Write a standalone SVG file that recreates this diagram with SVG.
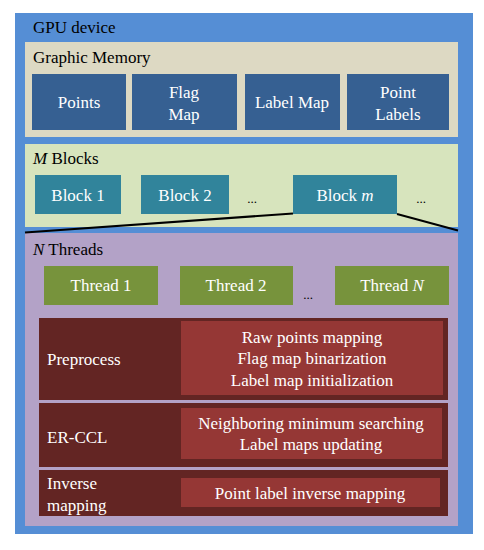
<svg xmlns="http://www.w3.org/2000/svg" width="484" height="550" viewBox="0 0 484 550" font-family="'Liberation Serif', 'DejaVu Serif', serif" font-size="17">
<style>
text{font-family:'Liberation Serif','DejaVu Serif',serif;font-size:17px}
.t{fill:#000}
.w{fill:#fff}
.c{text-anchor:middle}
.mem{fill:#366092}
.blk{fill:#31849B}
.thr{fill:#77933C}
.dk{fill:#632523}
.lt{fill:#953735}
</style>
<rect width="484" height="550" fill="#fff"/>
<g id="gpu">
<rect x="15" y="13" width="458" height="521" fill="#558ED5"/>
<text class="t" x="33" y="33">GPU device</text>
</g>
<g id="graphic-memory">
<rect x="25" y="42" width="433" height="95" fill="#DDD9C3"/>
<text class="t" x="33" y="63">Graphic Memory</text>
</g>
<g id="points"><rect class="mem" x="32" y="74" width="94" height="56"/><text class="w c" x="79" y="108">Points</text></g>
<g id="flag-map"><rect class="mem" x="132" y="74" width="105" height="56"/><text class="w c" x="184" y="98">Flag</text><text class="w c" x="184" y="120">Map</text></g>
<g id="label-map"><rect class="mem" x="245" y="74" width="95" height="56"/><text class="w c" x="292" y="108">Label Map</text></g>
<g id="point-labels"><rect class="mem" x="347" y="74" width="102" height="56"/><text class="w c" x="398" y="98">Point</text><text class="w c" x="398" y="120">Labels</text></g>
<g id="m-blocks">
<rect x="25" y="144" width="433" height="83" fill="#D7E4BD"/>
<text class="t" x="33" y="164"><tspan font-style="italic">M</tspan> Blocks</text>
</g>
<g id="block-1"><rect class="blk" x="35" y="175" width="86" height="39"/><text class="w c" x="78" y="201">Block 1</text></g>
<g id="block-2"><rect class="blk" x="141" y="175" width="88" height="39"/><text class="w c" x="185" y="201">Block 2</text></g>
<text class="t" x="252" y="203" text-anchor="middle" style="font-size:13px">...</text>
<g id="block-m"><rect class="blk" x="293" y="175" width="104" height="39"/><text class="w c" x="345" y="201">Block <tspan font-style="italic">m</tspan></text></g>
<text class="t" x="421" y="203" text-anchor="middle" style="font-size:13px">...</text>
<g id="n-threads">
<rect x="25" y="233" width="433" height="293" fill="#B3A2C7"/>
<text class="t" x="33" y="255"><tspan font-style="italic">N</tspan> Threads</text>
</g>
<g id="connectors" stroke="#000" stroke-width="2" fill="none">
<line x1="25" y1="232.5" x2="293" y2="213.5"/>
<line x1="397" y1="214" x2="458" y2="230.5"/>
</g>
<g id="thread-1"><rect class="thr" x="44" y="266" width="114" height="39"/><text class="w c" x="101" y="291">Thread 1</text></g>
<g id="thread-2"><rect class="thr" x="180" y="266" width="113" height="39"/><text class="w c" x="236" y="291">Thread 2</text></g>
<text class="t" x="308" y="299" text-anchor="middle" style="font-size:13px">...</text>
<g id="thread-n"><rect class="thr" x="335" y="266" width="114" height="39"/><text class="w c" x="392" y="291">Thread <tspan font-style="italic">N</tspan></text></g>
<g id="preprocess">
<rect class="dk" x="39" y="318" width="409" height="82"/>
<text class="w" x="47" y="365">Preprocess</text>
<rect class="lt" x="181" y="321" width="262" height="74"/>
<text class="w c" x="312" y="343">Raw points mapping</text>
<text class="w c" x="312" y="364">Flag map binarization</text>
<text class="w c" x="312" y="386">Label map initialization</text>
</g>
<g id="er-ccl">
<rect class="dk" x="39" y="403" width="409" height="64"/>
<text class="w" x="47" y="443">ER-CCL</text>
<rect class="lt" x="181" y="408" width="261" height="51"/>
<text class="w c" x="311" y="429">Neighboring minimum searching</text>
<text class="w c" x="311" y="450">Label maps updating</text>
</g>
<g id="inverse-mapping">
<rect class="dk" x="39" y="470" width="409" height="46"/>
<text class="w" x="47" y="489">Inverse</text>
<text class="w" x="47" y="511">mapping</text>
<rect class="lt" x="181" y="478" width="259" height="29"/>
<text class="w c" x="310" y="499">Point label inverse mapping</text>
</g>
</svg>
